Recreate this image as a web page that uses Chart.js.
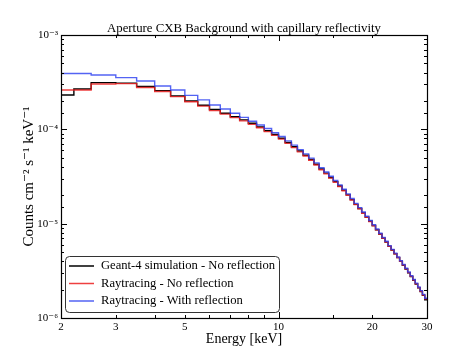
<!DOCTYPE html>
<html>
<head>
<meta charset="utf-8">
<script src="https://cdn.jsdelivr.net/npm/chart.js@4/dist/chart.umd.min.js"></script>
<style>
  html, body { margin: 0; padding: 0; background: #fff; }
  #c { display: block; }
</style>
</head>
<body>
<canvas id="c" width="474" height="355"></canvas>
<script>
// ---- Data ----
const titleText = 'Aperture CXB Background with capillary reflectivity';
const xTitle = 'Energy [keV]';
const yTitle = 'Counts cm\u207B\u00B2 s\u207B\u00B9 keV\u207B\u00B9';
const seriesNames = ['Geant-4 simulation - No reflection', 'Raytracing - No reflection', 'Raytracing - With reflection'];
const xTickLabels = [2, 3, 5, 10, 20, 30];

// Bin edges (keV)
const geantEdges = [2.0, 2.2, 2.5, 3.0, 3.5, 4.0, 4.5, 5.0, 5.5, 6.0, 6.5, 7.0, 7.5, 8.0, 8.5, 9.0, 9.5, 10.0,
  10.5, 11.0, 11.5, 12.0, 12.5, 13.0, 13.5, 14.0, 14.5, 15.0, 15.5, 16.0, 16.5, 17.0, 17.5, 18.0, 18.5, 19.0,
  19.5, 20.0, 20.5, 21.0, 21.5, 22.0, 22.5, 23.0, 23.5, 24.0, 24.5, 25.0, 25.5, 26.0, 26.5, 27.0, 27.5, 28.0,
  28.5, 29.0, 29.5, 30.0];
const rayEdges = [2.0, 2.5, 3.0, 3.5, 4.0, 4.5, 5.0, 5.5, 6.0, 6.5, 7.0, 7.5, 8.0, 8.5, 9.0, 9.5, 10.0,
  10.5, 11.0, 11.5, 12.0, 12.5, 13.0, 13.5, 14.0, 14.5, 15.0, 15.5, 16.0, 16.5, 17.0, 17.5, 18.0, 18.5, 19.0,
  19.5, 20.0, 20.5, 21.0, 21.5, 22.0, 22.5, 23.0, 23.5, 24.0, 24.5, 25.0, 25.5, 26.0, 26.5, 27.0, 27.5, 28.0,
  28.5, 29.0, 29.5, 30.0];

// Counts cm^-2 s^-1 keV^-1 per bin
const geantNoRefl = [2.31e-4, 2.68e-4, 3.13e-4, 3.09e-4, 2.85e-4, 2.57e-4, 2.26e-4, 2.00e-4, 1.80e-4, 1.62e-4,
  1.48e-4, 1.36e-4, 1.26e-4, 1.16e-4, 1.06e-4, 9.66e-5, 8.81e-5, 8.04e-5, 7.24e-5, 6.53e-5,
  5.89e-5, 5.31e-5, 4.79e-5, 4.27e-5, 3.80e-5, 3.43e-5, 3.09e-5, 2.79e-5, 2.51e-5, 2.26e-5,
  2.02e-5, 1.80e-5, 1.60e-5, 1.45e-5, 1.30e-5, 1.17e-5, 1.06e-5, 9.55e-6, 8.61e-6, 7.76e-6,
  7.00e-6, 6.38e-6, 5.75e-6, 5.25e-6, 4.79e-6, 4.37e-6, 3.98e-6, 3.63e-6, 3.31e-6, 3.02e-6,
  2.75e-6, 2.51e-6, 2.29e-6, 2.09e-6, 1.91e-6, 1.74e-6, 1.56e-6];
const rayNoRefl = [2.61e-4, 3.02e-4, 3.05e-4, 2.78e-4, 2.52e-4, 2.22e-4, 1.96e-4, 1.76e-4, 1.58e-4, 1.45e-4,
  1.33e-4, 1.23e-4, 1.13e-4, 1.04e-4, 9.45e-5, 8.62e-5, 7.87e-5, 7.09e-5, 6.40e-5, 5.77e-5,
  5.21e-5, 4.70e-5, 4.19e-5, 3.73e-5, 3.37e-5, 3.04e-5, 2.75e-5, 2.48e-5, 2.23e-5, 2.00e-5,
  1.78e-5, 1.59e-5, 1.44e-5, 1.29e-5, 1.17e-5, 1.05e-5, 9.50e-6, 8.60e-6, 7.76e-6, 7.00e-6,
  6.38e-6, 5.76e-6, 5.26e-6, 4.80e-6, 4.38e-6, 3.99e-6, 3.64e-6, 3.32e-6, 3.03e-6, 2.76e-6,
  2.52e-6, 2.30e-6, 2.10e-6, 1.92e-6, 1.75e-6, 1.60e-6];
const rayWithRefl = [3.91e-4, 3.77e-4, 3.53e-4, 3.25e-4, 2.88e-4, 2.61e-4, 2.29e-4, 2.05e-4, 1.81e-4, 1.64e-4,
  1.48e-4, 1.34e-4, 1.22e-4, 1.11e-4, 1.02e-4, 9.20e-5, 8.40e-5, 7.55e-5, 6.80e-5, 6.10e-5,
  5.50e-5, 4.95e-5, 4.41e-5, 3.92e-5, 3.53e-5, 3.18e-5, 2.87e-5, 2.58e-5, 2.32e-5, 2.07e-5,
  1.85e-5, 1.64e-5, 1.48e-5, 1.33e-5, 1.20e-5, 1.08e-5, 9.75e-6, 8.78e-6, 7.90e-6, 7.13e-6,
  6.50e-6, 5.85e-6, 5.34e-6, 4.87e-6, 4.44e-6, 4.05e-6, 3.69e-6, 3.37e-6, 3.07e-6, 2.80e-6,
  2.56e-6, 2.34e-6, 2.13e-6, 1.95e-6, 1.78e-6, 1.62e-6];

// ---- helpers ----
function stepPoints(edges, vals) {
  const pts = vals.map((v, i) => ({ x: edges[i], y: v }));
  pts.push({ x: edges[vals.length], y: vals[vals.length - 1] });
  return pts;
}
const SUP = { '-': '\u207B', '0': '\u2070', '1': '\u00B9', '2': '\u00B2', '3': '\u00B3', '4': '\u2074',
  '5': '\u2075', '6': '\u2076', '7': '\u2077', '8': '\u2078', '9': '\u2079' };
function isDecade(v) {
  const l = Math.log10(v);
  return Math.abs(l - Math.round(l)) < 1e-9;
}
function decadeLabel(v) {
  const e = String(Math.round(Math.log10(v)));
  return '10' + e.split('').map(c => SUP[c]).join('');
}

const SERIF = "'Liberation Serif', 'DejaVu Serif', serif";
const COLORS = ['#000000', 'rgba(235,30,30,0.85)', 'rgba(40,60,240,0.8)'];

const frameTicks = {
  id: 'frameTicks',
  afterDatasetsDraw(chart) {
    const { ctx, chartArea: a, scales: { x, y } } = chart;
    ctx.save();
    ctx.strokeStyle = '#000';
    ctx.lineWidth = 1;
    const seg = (x1, y1, x2, y2) => { ctx.beginPath(); ctx.moveTo(x1, y1); ctx.lineTo(x2, y2); ctx.stroke(); };
    x.ticks.forEach(t => {
      const px = Math.round(x.getPixelForValue(t.value)) + 0.5;
      const len = isDecade(t.value) ? 6 : 3;
      seg(px, a.bottom, px, a.bottom - len);
      seg(px, a.top, px, a.top + len);
    });
    y.ticks.forEach(t => {
      const py = Math.round(y.getPixelForValue(t.value)) + 0.5;
      const len = isDecade(t.value) ? 6 : 3;
      seg(a.left, py, a.left + len, py);
      seg(a.right, py, a.right - len, py);
    });
    ctx.lineWidth = 1.2;
    ctx.strokeRect(Math.round(a.left) + 0.5, Math.round(a.top) + 0.5,
      Math.round(a.right - a.left), Math.round(a.bottom - a.top));

    // title centred over the plot area
    ctx.fillStyle = '#000';
    ctx.font = "12.8px " + SERIF;
    ctx.textAlign = 'center';
    ctx.textBaseline = 'alphabetic';
    ctx.fillText(titleText, (a.left + a.right) / 2, a.top - 3);

    // legend box (lower left inside plot)
    const bx = a.left + 4, by = a.bottom - 62, bw = 214, bh = 56;
    ctx.fillStyle = '#fff';
    ctx.beginPath();
    ctx.roundRect(bx + 0.5, by + 0.5, bw, bh, 4);
    ctx.fill();
    ctx.lineWidth = 1;
    ctx.strokeStyle = '#333';
    ctx.stroke();
    ctx.font = "12.6px " + SERIF;
    ctx.textBaseline = 'middle';
    ctx.textAlign = 'left';
    chart.data.datasets.forEach((ds, i) => {
      const ry = by + 10 + i * 17.5;
      ctx.strokeStyle = ds.borderColor;
      ctx.lineWidth = 1.5;
      seg(bx + 4, ry, bx + 29, ry);
      ctx.fillStyle = '#000';
      ctx.fillText(ds.label, bx + 36, ry);
    });
    ctx.restore();
  }
};

new Chart(document.getElementById('c'), {
  type: 'line',
  data: {
    datasets: [
      { label: seriesNames[0], data: stepPoints(geantEdges, geantNoRefl), borderColor: COLORS[0], order: 3 },
      { label: seriesNames[1], data: stepPoints(rayEdges, rayNoRefl), borderColor: COLORS[1], order: 2 },
      { label: seriesNames[2], data: stepPoints(rayEdges, rayWithRefl), borderColor: COLORS[2], order: 1 }
    ].map(d => Object.assign(d, { stepped: 'before', pointRadius: 0, borderWidth: 1.4, fill: false }))
  },
  options: {
    responsive: false,
    animation: false,
    devicePixelRatio: 1,
    layout: { padding: { left: 0, right: 47, top: 35, bottom: 0 } },
    plugins: {
      legend: { display: false },
      tooltip: { enabled: false },
      title: { display: false }
    },
    scales: {
      x: {
        type: 'logarithmic', min: 2, max: 30,
        grid: { display: false, drawTicks: false },
        border: { display: false },
        ticks: {
          autoSkip: false, maxRotation: 0, padding: 3, color: '#000',
          font: { family: SERIF, size: 11 },
          callback: v => xTickLabels.includes(Math.round(v * 1000) / 1000) ? String(v) : ''
        },
        title: { display: true, text: xTitle, color: '#000', font: { family: SERIF, size: 14 }, padding: { top: 0, bottom: 7 } },
        afterFit: s => { s.height = 37; }
      },
      y: {
        type: 'logarithmic', min: 1e-6, max: 1e-3,
        grid: { display: false, drawTicks: false },
        border: { display: false },
        ticks: {
          autoSkip: false, padding: 3, color: '#000',
          font: { family: SERIF, size: 11 },
          callback: v => isDecade(v) ? decadeLabel(v) : ''
        },
        title: { display: true, text: yTitle, color: '#000', font: { family: SERIF, size: 15 }, padding: { top: 20, bottom: 0 } },
        afterFit: s => { s.width = 61; }
      }
    }
  },
  plugins: [frameTicks]
});
</script>
</body>
</html>
